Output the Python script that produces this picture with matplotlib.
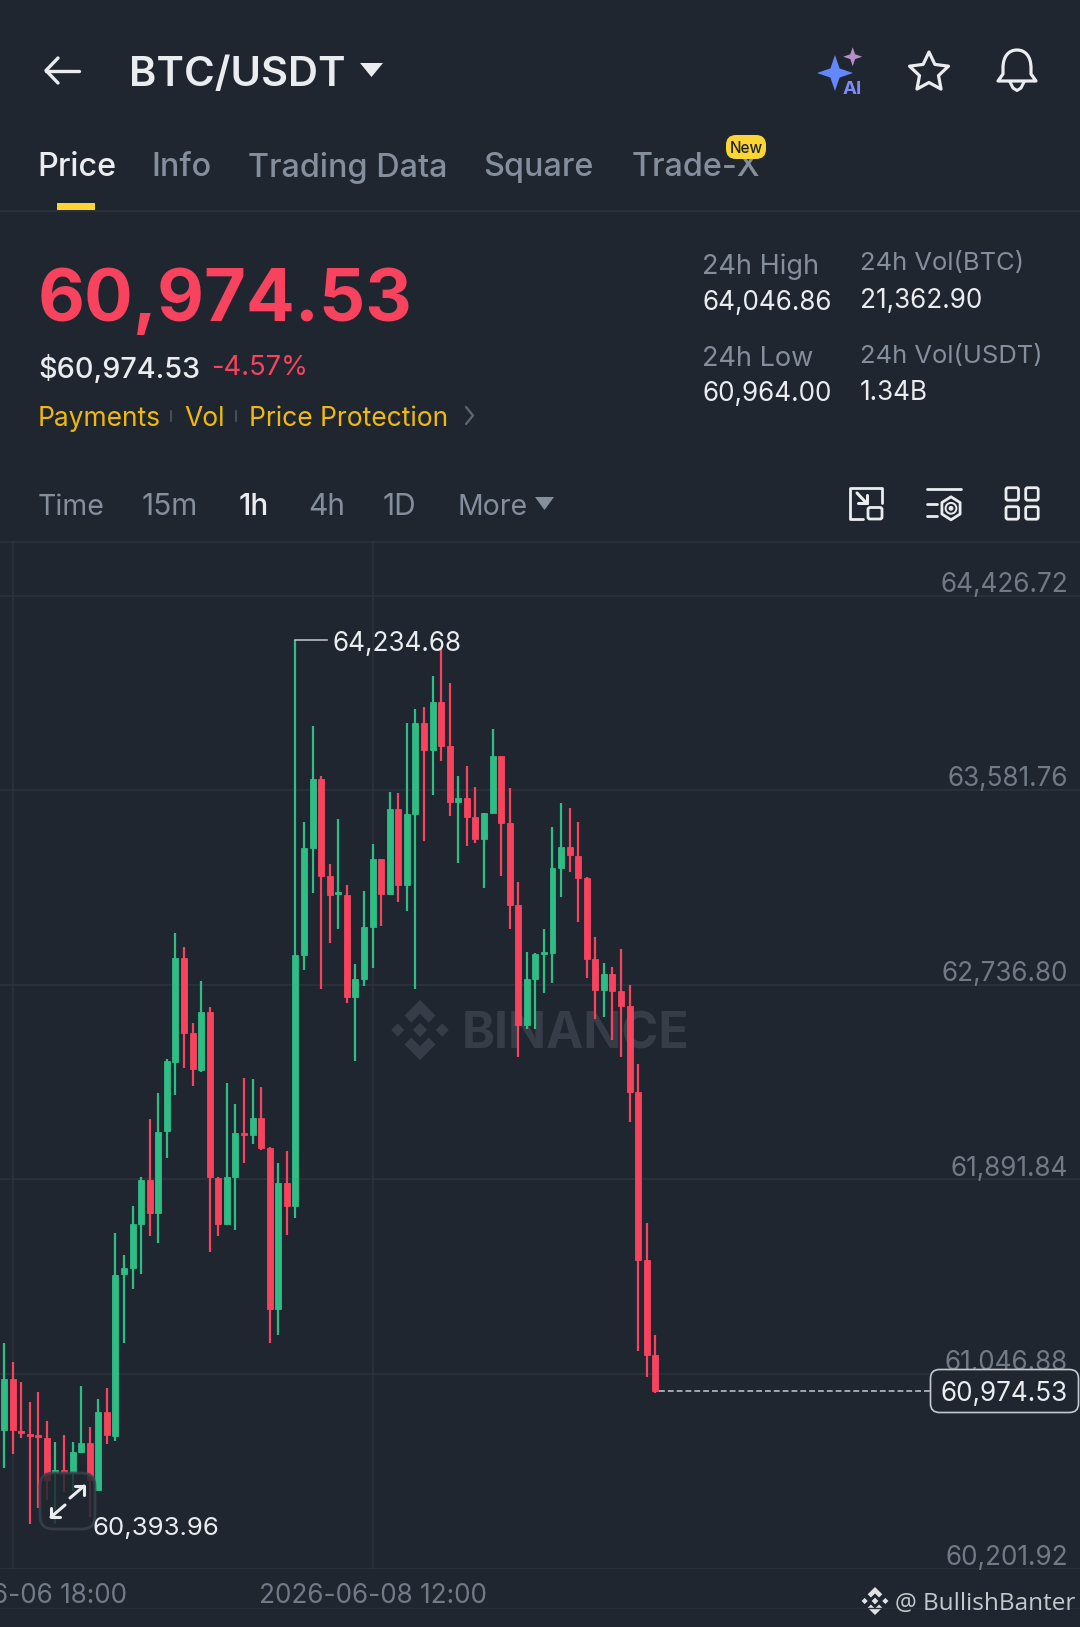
import matplotlib
matplotlib.use('Agg')
import matplotlib.pyplot as plt
import numpy as np
from matplotlib.patches import Polygon, FancyBboxPatch, Rectangle, Circle, PathPatch
from matplotlib.path import Path

BG = '#1f2630'
GREEN = '#2ebd85'
RED = '#f8435e'
GREY = '#848e9c'
AXIS_GREY = '#717a87'
GRID = '#2d343e'
WHITE = '#eaecef'
YELLOW = '#f0b90b'
FONT = 'Inter'

# 1h candles
opens = [60802, 61027, 60798, 60788, 60780, 60771, 60616, 60632, 60616, 60709,
         60748, 60543, 60880, 60779, 61480, 61508, 61699, 61891, 61746, 62100,
         62403, 62855, 62529, 62367, 62620, 61898, 61698, 61904, 62092, 62083,
         62159, 62028, 61328, 61875, 61778, 62866, 63331, 63630, 63209, 63131,
         63128, 62683, 62762, 62987, 63283, 63131, 63500, 63170, 63479, 63872,
         63756, 63964, 63774, 63532, 63549, 63467, 63370, 63484, 63730, 63438,
         63083, 62562, 62762, 62869, 62876, 63243, 63337, 63297, 63199, 62849,
         62714, 62784, 62710, 62645, 62273, 61542, 61131]
highs = [61182, 61097, 61012, 60926, 60968, 60841, 60751, 60784, 60751, 60996,
         60815, 60940, 60984, 61660, 61565, 61775, 61903, 62156, 62268, 62415,
         62961, 62900, 62570, 62753, 62642, 61904, 62312, 62218, 62331, 62328,
         62294, 62034, 61962, 62017, 64234.68, 63442, 63861, 63644, 63260, 63456,
         63169, 62826, 63144, 63348, 63283, 63575, 63568, 63872, 63933, 63942,
         64078, 64198, 64046, 63645, 63688, 63594, 63484, 63849, 63730, 63593,
         63182, 62878, 62874, 62978, 63423, 63525, 63506, 63442, 63206, 62943,
         62833, 62815, 62892, 62735, 62393, 61703, 61215]
lows = [60639, 60701, 60767, 60396, 60466, 60500, 60393.96, 60534, 60539, 60706,
        60426, 60543, 60745, 60756, 61182, 61415, 61482, 61647, 61616, 61985,
        62258, 62374, 62297, 62358, 61577, 61646, 61694, 61672, 61964, 62046,
        62020, 61180, 61216, 61651, 61726, 62801, 63137, 62719, 62917, 62978,
        62657, 62407, 62733, 62811, 62992, 63127, 63098, 63057, 62717, 63361,
        63561, 63710, 63471, 63267, 63340, 63354, 63159, 63484, 63209, 62978,
        62422, 62545, 62544, 62703, 62746, 63119, 63228, 63011, 62768, 62588,
        62596, 62497, 62422, 62141, 61147, 61036, 60963]
closes = [61027, 60802, 60791, 60779, 60773, 60585, 60632, 60616, 60709, 60748,
          60585, 60880, 60782, 61477, 61505, 61699, 61891, 61746, 62098, 62404,
          62855, 62529, 62370, 62620, 61901, 61698, 61904, 62092, 62083, 62159,
          62027, 61328, 61875, 61778, 62866, 63331, 63630, 63211, 63128, 63139,
          62683, 62762, 62987, 63283, 63131, 63500, 63170, 63479, 63872, 63756,
          63964, 63774, 63532, 63549, 63467, 63370, 63484, 63730, 63438, 63083,
          62562, 62762, 62869, 62878, 63243, 63337, 63301, 63199, 62849, 62714,
          62784, 62710, 62645, 62273, 61542, 61131, 60974.53]

price_ticks = [64426.72, 63581.76, 62736.80, 61891.84, 61046.88, 60201.92]
time_ticks = [1, 43]
time_labels = ['2026-06-06 18:00', '2026-06-08 12:00']
high_price = 64234.68
low_price = 60393.96
last_price = 60974.53

tabs = ['Price', 'Info', 'Trading Data', 'Square', 'Trade-X']
intervals = ['Time', '15m', '1h', '4h', '1D', 'More']
stat_titles = ['24h High', '24h Low', '24h Vol(BTC)', '24h Vol(USDT)']
stat_values = ['64,046.86', '60,964.00', '21,362.90', '1.34B']

plt.rcParams['font.family'] = [FONT, 'DejaVu Sans']
fig = plt.figure(figsize=(10.8, 16.27), dpi=100, facecolor=BG)

# three layers: watermark, chart, then the app's interface on top
back = fig.add_axes([0, 0, 1, 1], facecolor=BG, zorder=0)
back.set_xlim(0, 1080)
back.set_ylim(1627, 0)
back.axis('off')

ax = fig.add_axes([0, 58 / 1627, 1, 1027.5 / 1627], facecolor='none', zorder=1)
ax.set_xlim(-0.467, 125.55)
ax.set_ylim(60200.2, 64661.6)
for s in ax.spines.values():
    s.set_visible(False)
ax.set_yticks(price_ticks)
ax.set_yticklabels([])
ax.set_xticks(time_ticks)
ax.set_xticklabels(time_labels, fontsize=18.8, color=AXIS_GREY)
ax.tick_params(axis='both', length=0)
ax.tick_params(axis='x', pad=10)
ax.grid(True, color=GRID, linewidth=1.1)
ax.set_axisbelow(True)

x = np.arange(len(opens))
o = np.array(opens, dtype=float)
c = np.array(closes, dtype=float)
colors = [GREEN if cl >= op else RED for op, cl in zip(o, c)]
ax.vlines(x, lows, highs, colors=colors, linewidth=1.6, zorder=3)
ax.bar(x, np.abs(c - o), bottom=np.minimum(o, c), width=0.7, color=colors,
       edgecolor=colors, linewidth=0.6, zorder=3)

for p in price_ticks:
    ax.annotate(f'{p:,.2f}', xy=(1, p), xycoords=('axes fraction', 'data'), xytext=(-8.6, 7.8),
                textcoords='offset points', ha='right', va='center', fontsize=18.8, color=AXIS_GREY, zorder=2)

# high / low / last markers
ax.plot([34, 37.7], [high_price, high_price], color='#b7bdc6', linewidth=1.2, zorder=4)
ax.plot([76.4, 108], [last_price, last_price], color='#b7bdc6', linewidth=1.2, linestyle=(0, (3.5, 1.8)), zorder=2)

# everything else is placed in pixels
ui = fig.add_axes([0, 0, 1, 1], facecolor='none', zorder=2)
ui.set_xlim(0, 1080)
ui.set_ylim(1627, 0)
ui.axis('off')


def label(px, py, s, size, color=WHITE, weight='normal', ha='left', zorder=5, family=None):
    return ui.text(px, py, s, fontsize=size, color=color, fontweight=weight, ha=ha,
                   va='center_baseline', zorder=zorder, family=family or [FONT, 'DejaVu Sans'])


def line(xs, ys, color=WHITE, lw=2.2, zorder=3):
    ui.plot(xs, ys, color=color, linewidth=lw, solid_capstyle='round', solid_joinstyle='round', zorder=zorder)


def rbox(px, py, w, h, pad, **kw):
    ui.add_patch(FancyBboxPatch((px + pad, py + pad), w - 2 * pad, h - 2 * pad,
                                boxstyle=f'round,pad={pad}', **kw))


def binance_logo(target, cx, cy, r, color, zorder=1):
    top = [(0, 1), (.52, .48), (.29, .25), (0, .54), (-.29, .25), (-.52, .48)]
    centre = [(0, .24), (.24, 0), (0, -.24), (-.24, 0)]
    side = [(.74, .22), (.96, 0), (.74, -.22), (.52, 0)]
    shapes = [top, [(a, -b) for a, b in top], centre, side, [(-a, b) for a, b in side]]
    for shape in shapes:
        target.add_patch(Polygon([(cx + a * r, cy - b * r) for a, b in shape], closed=True,
                                 facecolor=color, edgecolor='none', zorder=zorder))


def sparkle(cx, cy, r, color):
    pts = []
    for k in range(4):
        a = k * np.pi / 2
        pts.append((cx + r * np.cos(a), cy + r * np.sin(a)))
        a += np.pi / 4
        pts.append((cx + .36 * r * np.cos(a), cy + .36 * r * np.sin(a)))
    ui.add_patch(Polygon(pts, closed=True, facecolor=color, edgecolor='none'))


# watermark sits behind the candles
binance_logo(back, 420, 1030, 30, '#363d48')
back.text(462, 1030, 'BINANCE', fontsize=36, color='#363d48', fontweight='bold', va='center_baseline')

# chart labels that belong on top of the candles
label(333, 641, f'{high_price:,.2f}', 18.8)
label(92, 1526, f'{low_price:,.2f}', 18.6, zorder=8)

# header
line([46, 79], [70.5, 70.5], lw=2.4)
line([58, 46, 58], [58, 70.5, 83], lw=2.4)
label(129, 71, 'BTC/USDT', 30, weight='semibold')
ui.add_patch(Polygon([(360, 63), (383, 63), (371.5, 77)], closed=True, facecolor=WHITE, edgecolor='none'))

sparkle(835, 73, 18, '#6288fb')
sparkle(852.7, 56.7, 9.5, '#b68ec9')
label(843, 87, 'AI', 13.5, color='#7f8af5', weight='bold')

star = []
for k in range(10):
    a = -np.pi / 2 + k * np.pi / 5
    rad = 20.5 if k % 2 == 0 else 10
    star.append((929 + rad * np.cos(a), 72.5 + rad * np.sin(a)))
ui.add_patch(Polygon(star, closed=True, facecolor='none', edgecolor=WHITE, linewidth=2.3, joinstyle='round'))

bell = Path([(998, 81), (1003, 74), (1003, 68), (1003, 56), (1009, 50), (1017, 50), (1025, 50), (1031, 56),
             (1031, 68), (1031, 74), (1036, 81), (998, 81)],
            [Path.MOVETO, Path.LINETO, Path.LINETO, Path.CURVE4, Path.CURVE4, Path.CURVE4, Path.CURVE4, Path.CURVE4,
             Path.LINETO, Path.LINETO, Path.LINETO, Path.CLOSEPOLY])
ui.add_patch(PathPatch(bell, facecolor='none', edgecolor=WHITE, linewidth=2.3, joinstyle='round'))
ui.plot([1010, 1013, 1017, 1021, 1024], [82, 88, 90.5, 88, 82], color=WHITE, linewidth=2.2)

# tabs
for name, px in zip(tabs, [37, 151, 248, 483, 632]):
    label(px, 164, name, 23.3, color=WHITE if name == 'Price' else GREY, weight='medium')
ui.add_patch(Rectangle((57, 203), 38, 7, facecolor='#fcd535', edgecolor='none', zorder=6))
line([0, 1080], [211, 211], color=GRID, lw=1.1)
rbox(726, 135, 40, 24, 10, facecolor='#fcd535', edgecolor='none', zorder=6)
label(746, 147, 'New', 11, color='#1e2329', weight='medium', ha='center', zorder=7)

# price block
label(38, 294, '60,974.53', 52, color=RED, weight='bold')
label(38, 366, '$60,974.53', 20.7, weight='medium')
label(211, 365, '-4.57%', 19.7, color=RED)
label(38, 416, 'Payments', 19, color=YELLOW)
label(184.5, 416, 'Vol', 19, color=YELLOW)
label(249, 416, 'Price Protection', 19, color=YELLOW)
line([171, 171], [411, 421], color='#4a4f57', lw=1.5)
line([235.5, 235.5], [411, 421], color='#4a4f57', lw=1.5)
line([466, 473, 466], [407, 415.5, 424], color='#5e6673', lw=1.6)

stat_pos = [(702, 264, 300), (702, 356, 391), (860, 261, 298), (860, 354, 390)]
for title, value, (px, ty, vy) in zip(stat_titles, stat_values, stat_pos):
    label(px, ty, title, 19.5 if px < 800 else 18.4, color=GREY)
    label(px, vy, value, 18.8)

# interval row
for name, px in zip(intervals, [38, 142, 238.5, 308, 383, 457]):
    label(px, 504, name, 20.5 if name in ('Time', 'More') else 21.5, color=WHITE if name == '1h' else GREY,
          weight='medium' if name == '1h' else 'normal')
ui.add_patch(Polygon([(535, 497), (554, 497), (544.5, 510)], closed=True, facecolor=GREY, edgecolor='none'))
line([0, 1080], [541.5, 541.5], color=GRID, lw=1.1)

# layout icons
line([863, 850, 850, 881.7, 881.7], [519, 519, 488, 488, 503], lw=2)
line([857, 866.7], [493, 503.3], lw=2.2)
line([866.7, 866.7], [495, 503.3], lw=2.2)
line([858.3, 866.7], [503.3, 503.3], lw=2.2)
rbox(868, 507.5, 14, 11.5, 2, facecolor='none', edgecolor=WHITE, linewidth=2)
line([927, 960.7], [489.3, 489.3], lw=2)
line([927, 936.7], [503.7, 503.7], lw=2)
line([927, 936.7], [516.3, 516.3], lw=2)
hexagon = [(951 + 10.5 * np.cos(a), 508.3 + 11.5 * np.sin(a)) for a in np.radians([-90, -30, 30, 90, 150, 210])]
ui.add_patch(Polygon(hexagon, closed=True, facecolor='none', edgecolor=WHITE, linewidth=2, joinstyle='round'))
ui.add_patch(Circle((951, 508.3), 2.4, facecolor=WHITE, edgecolor='none'))
ui.add_patch(Circle((951, 508.3), 5.4, facecolor='none', edgecolor=WHITE, linewidth=1.4))
for bx in (1006, 1025.7):
    for by in (487.7, 506.7):
        rbox(bx, by, 12.5, 12.5, 2, facecolor='none', edgecolor=WHITE, linewidth=2)

# expand button over the candles
rbox(40, 1473, 55, 56, 13, facecolor=BG, edgecolor='#3a424e', linewidth=2, alpha=0.82, zorder=6)
line([51, 65], [1517, 1505], lw=2.2, zorder=7)
line([51, 51, 60], [1508, 1517, 1517], lw=2.2, zorder=7)
line([70, 84], [1498, 1486], lw=2.2, zorder=7)
line([75, 84, 84], [1486, 1486, 1495], lw=2.2, zorder=7)

# last price tag
rbox(930.5, 1369.5, 148, 43, 9, facecolor=BG, edgecolor='#c5c9cf', linewidth=1.2, zorder=6)
label(1068, 1391, f'{last_price:,.2f}', 18.8, ha='right', zorder=7)

# credit
line([0, 1080], [1608, 1608], color='#282f39', lw=1)
binance_logo(ui, 875, 1601, 14, '#e0e2e5')
label(895, 1601, '@ BullishBanter', 17.5, color='#c5c8cc', family=['Open Sans', 'DejaVu Sans'])

fig.savefig('out.png', dpi=100, facecolor=BG)
